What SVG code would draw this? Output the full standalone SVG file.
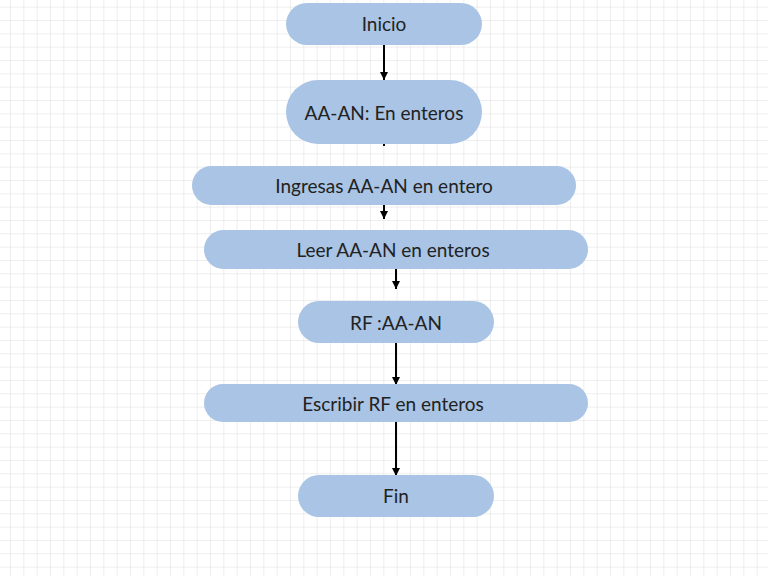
<svg xmlns="http://www.w3.org/2000/svg" width="768" height="576" viewBox="0 0 768 576">
<defs>
<pattern id="g" x="10" y="6.67" width="13.333" height="13.333" patternUnits="userSpaceOnUse">
<path d="M0 0V13.333M0 0H13.333" fill="none" stroke="#dddddd" stroke-width="1"/>
</pattern>
<marker id="a" viewBox="0 0 10 10" refX="10" refY="5" markerWidth="4" markerHeight="4" orient="auto"><path d="M0 0L10 5L0 10z" fill="#000"/></marker>
<style>
.n rect{fill:#a9c4e4}
.n text{font-family:Lato,"Open Sans",sans-serif;font-size:19px;fill:#222;text-anchor:middle;dominant-baseline:central}
.c line{stroke:#000;stroke-width:2;marker-end:url(#a)}
</style>
</defs>
<rect width="768" height="576" fill="#fff"/>
<rect width="768" height="576" fill="url(#g)"/>
<g class="c">
<line x1="384" y1="45" x2="384" y2="80"/>
<line x1="384" y1="137" x2="384" y2="146"/>
<line x1="384" y1="205" x2="384" y2="219"/>
<line x1="396" y1="269" x2="396" y2="289"/>
<line x1="396" y1="343" x2="396" y2="385"/>
<line x1="396" y1="422" x2="396" y2="476"/>
</g>
<g id="inicio" class="n"><rect x="286" y="3" width="196" height="42" rx="21"/><text x="384" y="23">Inicio</text></g>
<g id="aaan" class="n"><rect x="286" y="80" width="196" height="64" rx="32"/><text x="384" y="112">AA-AN: En enteros</text></g>
<g id="ingresas" class="n"><rect x="192" y="166" width="384" height="39" rx="19.5"/><text x="384" y="185">Ingresas AA-AN en entero</text></g>
<g id="leer" class="n"><rect x="204" y="230" width="384" height="39" rx="19.5"/><text x="393" y="249">Leer AA-AN en enteros</text></g>
<g id="rf" class="n"><rect x="298" y="301" width="196" height="42" rx="21"/><text x="396" y="322">RF :AA-AN</text></g>
<g id="escribir" class="n"><rect x="204" y="384" width="384" height="38" rx="19"/><text x="393" y="403">Escribir RF en enteros</text></g>
<g id="fin" class="n"><rect x="298" y="475" width="196" height="42" rx="21"/><text x="396" y="495">Fin</text></g>
</svg>
